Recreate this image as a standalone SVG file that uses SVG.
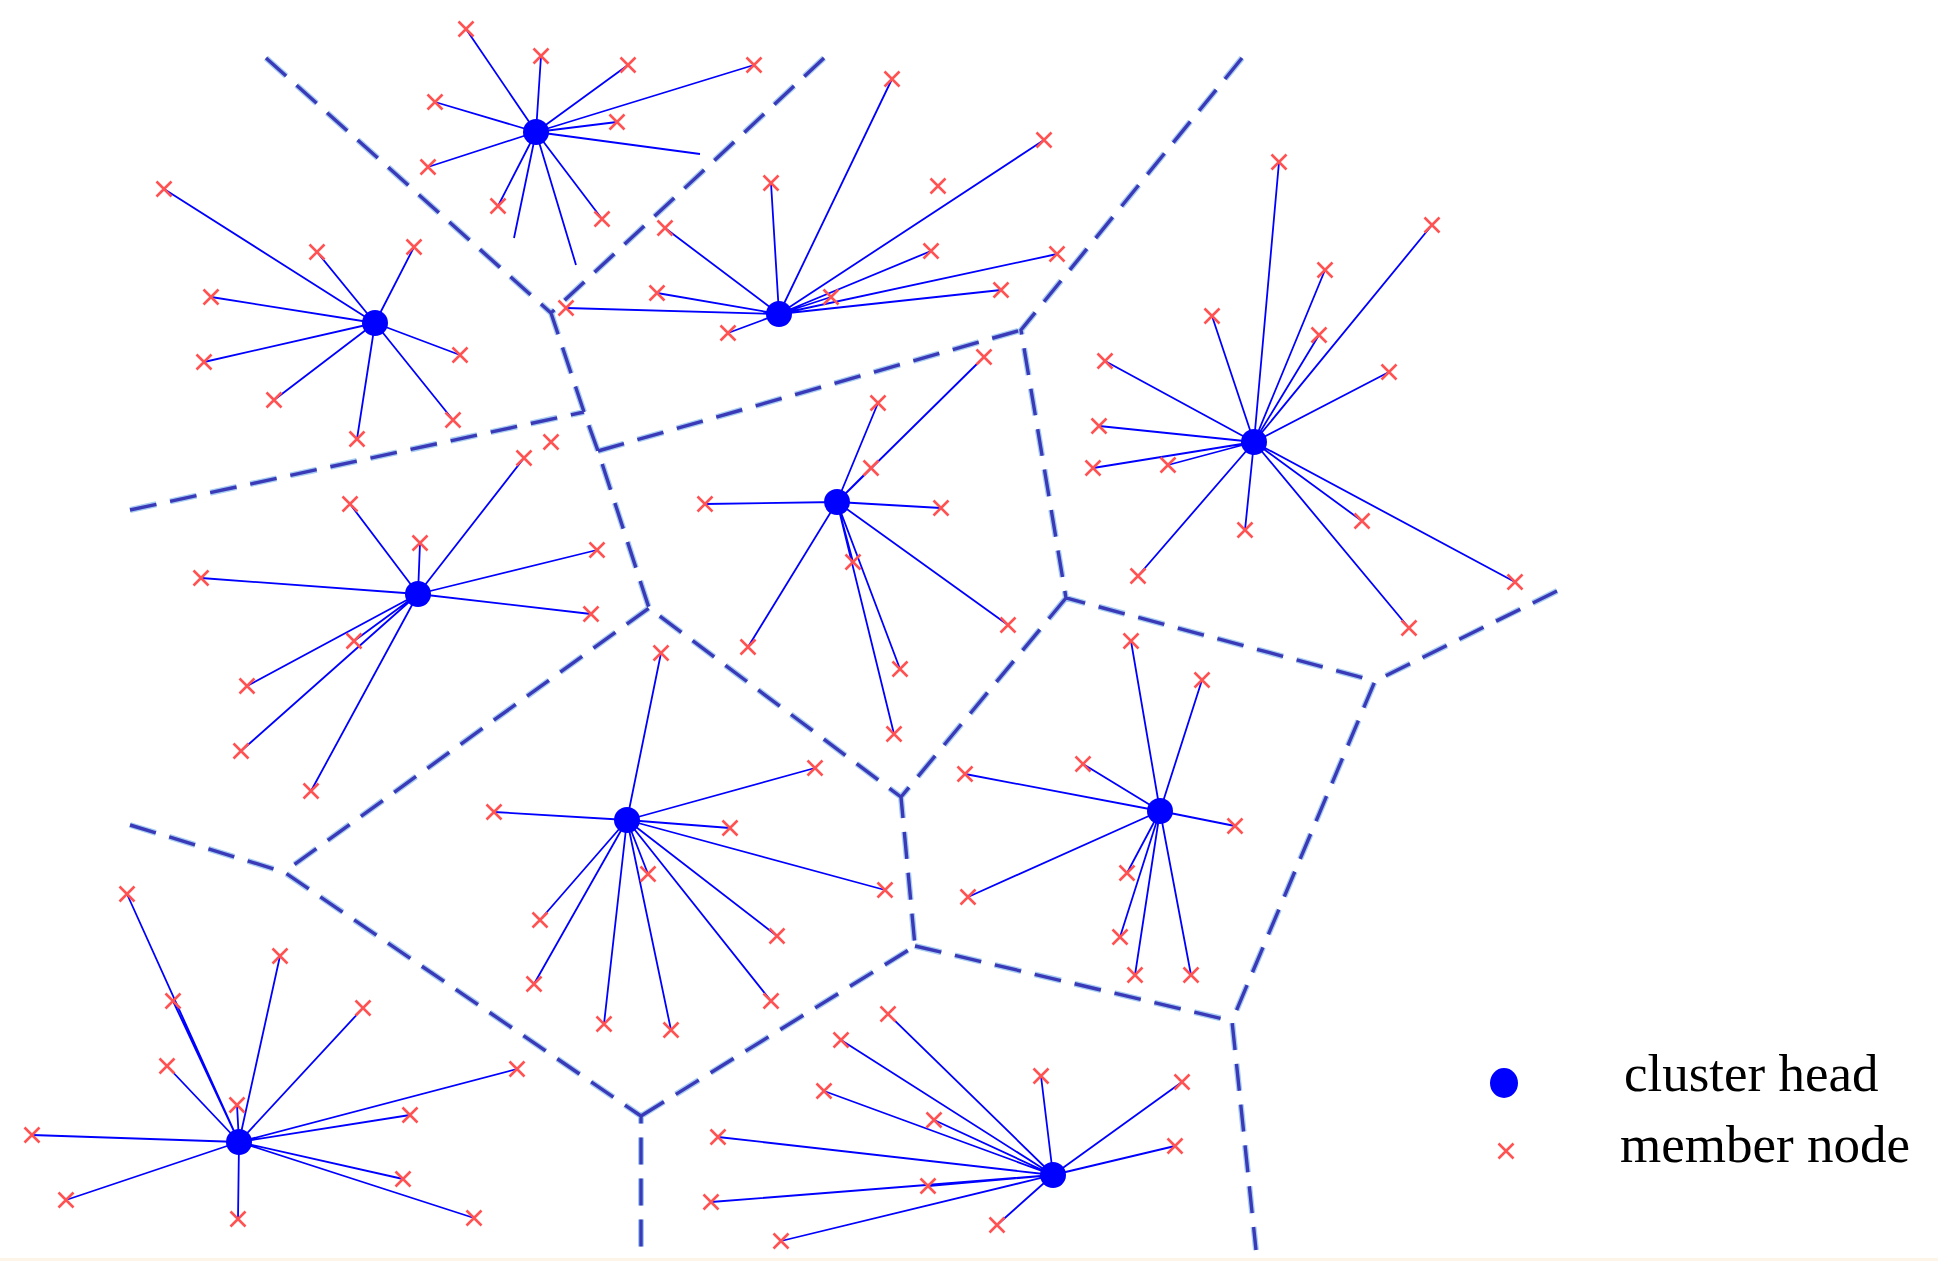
<svg xmlns="http://www.w3.org/2000/svg" width="1938" height="1287" viewBox="0 0 1938 1287">
<style>
.bg{fill:#ffffff}
.vor-halo{fill:none;stroke:#a8cdf2;stroke-width:6;stroke-dasharray:27 14;stroke-linecap:butt}
.vor{fill:none;stroke:#3a3ab8;stroke-width:3.4;stroke-dasharray:27 14;stroke-linecap:butt}
.link{fill:none;stroke:#0000ff;stroke-width:1.8}
.mx{fill:none;stroke:#ff5252;stroke-width:2.6}
.ch{fill:#0000ff}
.label{font-family:"Liberation Serif","Times New Roman",serif;font-size:53px;fill:#000000}
</style>
<defs>
<path id="mx" class="mx" d="M-7.5,-7.5L7.5,7.5M-7.5,7.5L7.5,-7.5"/>
<path id="vpath" d="M266,58 L551,313 M824,58 L551,313 L584,412 L598,451 L649,608 M130,510 L584,412 M598,451 L1021,330 M1242,58 L1021,330 L1066,598 L1375,681 M1557,591 L1375,681 L1232,1021 L1256,1250 M1066,598 L901,797 L649,608 L284,872 M130,825 L284,872 L641,1116 L641,1250 M641,1116 L915,946 L901,797 M915,946 L1232,1021"/>
</defs>
<rect class="bg" x="0" y="0" width="1938" height="1287"/>
<rect x="0" y="1258" width="1938" height="3" fill="#fcf5e8"/>

<g id="voronoi-boundaries">
<use href="#vpath" class="vor-halo"/>
<use href="#vpath" class="vor"/>
</g>

<g id="connectors">
<path class="link" d="M536,132L466,29M536,132L541,56M536,132L628,65M536,132L754,65M536,132L435,102M536,132L617,122M536,132L428,167M536,132L498,206M536,132L602,219M536,132L700,154M536,132L514,238M536,132L576,265"/>
<path class="link" d="M375,323L164,189M375,323L317,252M375,323L414,247M375,323L211,297M375,323L204,362M375,323L460,355M375,323L274,400M375,323L357,439M375,323L453,420"/>
<path class="link" d="M779,314L892,79M779,314L1044,140M779,314L771,183M779,314L665,228M779,314L931,251M779,314L1057,254M779,314L657,293M779,314L1001,290M779,314L831,297M779,314L566,308M779,314L728,333"/>
<path class="link" d="M1254,442L1279,162M1254,442L1432,225M1254,442L1325,270M1254,442L1319,335M1254,442L1212,316M1254,442L1105,361M1254,442L1389,372M1254,442L1099,426M1254,442L1093,468M1254,442L1168,465M1254,442L1245,530M1254,442L1362,521M1254,442L1138,576M1254,442L1515,582M1254,442L1409,628"/>
<path class="link" d="M837,502L984,357M837,502L878,403M837,502L871,468M837,502L705,504M837,502L941,508M837,502L853,562M837,502L1008,625M837,502L748,647M837,502L900,669M837,502L894,734"/>
<path class="link" d="M418,594L524,458M418,594L350,504M418,594L420,543M418,594L201,578M418,594L597,550M418,594L591,614M418,594L354,641M418,594L247,686M418,594L241,751M418,594L311,791"/>
<path class="link" d="M627,820L661,653M627,820L815,768M627,820L494,812M627,820L730,828M627,820L885,890M627,820L540,920M627,820L648,874M627,820L777,936M627,820L534,984M627,820L771,1001M627,820L604,1024M627,820L671,1030"/>
<path class="link" d="M1160,811L1131,641M1160,811L1202,680M1160,811L1083,764M1160,811L965,774M1160,811L1235,826M1160,811L968,897M1160,811L1127,873M1160,811L1120,937M1160,811L1135,975M1160,811L1191,975"/>
<path class="link" d="M239,1142L127,894M239,1142L280,956M239,1142L173,1001M239,1142L363,1008M239,1142L167,1066M239,1142L517,1069M239,1142L237,1105M239,1142L410,1115M239,1142L32,1135M239,1142L403,1179M239,1142L66,1200M239,1142L238,1219M239,1142L474,1218"/>
<path class="link" d="M1053,1175L888,1014M1053,1175L841,1040M1053,1175L1041,1076M1053,1175L1182,1082M1053,1175L824,1091M1053,1175L934,1120M1053,1175L718,1137M1053,1175L1175,1146M1053,1175L928,1186M1053,1175L711,1202M1053,1175L997,1225M1053,1175L781,1241"/>
</g>

<g id="members-1"><use href="#mx" x="466" y="29"/><use href="#mx" x="541" y="56"/><use href="#mx" x="628" y="65"/><use href="#mx" x="754" y="65"/><use href="#mx" x="435" y="102"/><use href="#mx" x="617" y="122"/><use href="#mx" x="428" y="167"/><use href="#mx" x="498" y="206"/><use href="#mx" x="602" y="219"/></g>
<g id="members-2"><use href="#mx" x="164" y="189"/><use href="#mx" x="317" y="252"/><use href="#mx" x="414" y="247"/><use href="#mx" x="211" y="297"/><use href="#mx" x="204" y="362"/><use href="#mx" x="460" y="355"/><use href="#mx" x="274" y="400"/><use href="#mx" x="357" y="439"/><use href="#mx" x="453" y="420"/></g>
<g id="members-3"><use href="#mx" x="892" y="79"/><use href="#mx" x="1044" y="140"/><use href="#mx" x="771" y="183"/><use href="#mx" x="665" y="228"/><use href="#mx" x="931" y="251"/><use href="#mx" x="1057" y="254"/><use href="#mx" x="657" y="293"/><use href="#mx" x="1001" y="290"/><use href="#mx" x="831" y="297"/><use href="#mx" x="566" y="308"/><use href="#mx" x="728" y="333"/><use href="#mx" x="938" y="186"/></g>
<g id="members-4"><use href="#mx" x="1279" y="162"/><use href="#mx" x="1432" y="225"/><use href="#mx" x="1325" y="270"/><use href="#mx" x="1319" y="335"/><use href="#mx" x="1212" y="316"/><use href="#mx" x="1105" y="361"/><use href="#mx" x="1389" y="372"/><use href="#mx" x="1099" y="426"/><use href="#mx" x="1093" y="468"/><use href="#mx" x="1168" y="465"/><use href="#mx" x="1245" y="530"/><use href="#mx" x="1362" y="521"/><use href="#mx" x="1138" y="576"/><use href="#mx" x="1515" y="582"/><use href="#mx" x="1409" y="628"/></g>
<g id="members-5"><use href="#mx" x="984" y="357"/><use href="#mx" x="878" y="403"/><use href="#mx" x="871" y="468"/><use href="#mx" x="705" y="504"/><use href="#mx" x="941" y="508"/><use href="#mx" x="853" y="562"/><use href="#mx" x="1008" y="625"/><use href="#mx" x="748" y="647"/><use href="#mx" x="900" y="669"/><use href="#mx" x="894" y="734"/></g>
<g id="members-6"><use href="#mx" x="524" y="458"/><use href="#mx" x="350" y="504"/><use href="#mx" x="420" y="543"/><use href="#mx" x="201" y="578"/><use href="#mx" x="597" y="550"/><use href="#mx" x="591" y="614"/><use href="#mx" x="354" y="641"/><use href="#mx" x="247" y="686"/><use href="#mx" x="241" y="751"/><use href="#mx" x="311" y="791"/><use href="#mx" x="551" y="442"/></g>
<g id="members-7"><use href="#mx" x="661" y="653"/><use href="#mx" x="815" y="768"/><use href="#mx" x="494" y="812"/><use href="#mx" x="730" y="828"/><use href="#mx" x="885" y="890"/><use href="#mx" x="540" y="920"/><use href="#mx" x="648" y="874"/><use href="#mx" x="777" y="936"/><use href="#mx" x="534" y="984"/><use href="#mx" x="771" y="1001"/><use href="#mx" x="604" y="1024"/><use href="#mx" x="671" y="1030"/></g>
<g id="members-8"><use href="#mx" x="1131" y="641"/><use href="#mx" x="1202" y="680"/><use href="#mx" x="1083" y="764"/><use href="#mx" x="965" y="774"/><use href="#mx" x="1235" y="826"/><use href="#mx" x="968" y="897"/><use href="#mx" x="1127" y="873"/><use href="#mx" x="1120" y="937"/><use href="#mx" x="1135" y="975"/><use href="#mx" x="1191" y="975"/></g>
<g id="members-9"><use href="#mx" x="127" y="894"/><use href="#mx" x="280" y="956"/><use href="#mx" x="173" y="1001"/><use href="#mx" x="363" y="1008"/><use href="#mx" x="167" y="1066"/><use href="#mx" x="517" y="1069"/><use href="#mx" x="237" y="1105"/><use href="#mx" x="410" y="1115"/><use href="#mx" x="32" y="1135"/><use href="#mx" x="403" y="1179"/><use href="#mx" x="66" y="1200"/><use href="#mx" x="238" y="1219"/><use href="#mx" x="474" y="1218"/></g>
<g id="members-10"><use href="#mx" x="888" y="1014"/><use href="#mx" x="841" y="1040"/><use href="#mx" x="1041" y="1076"/><use href="#mx" x="1182" y="1082"/><use href="#mx" x="824" y="1091"/><use href="#mx" x="934" y="1120"/><use href="#mx" x="718" y="1137"/><use href="#mx" x="1175" y="1146"/><use href="#mx" x="928" y="1186"/><use href="#mx" x="711" y="1202"/><use href="#mx" x="997" y="1225"/><use href="#mx" x="781" y="1241"/></g>

<g id="ch1"><circle class="ch" cx="536" cy="132" r="13"/></g>
<g id="ch2"><circle class="ch" cx="375" cy="323" r="13"/></g>
<g id="ch3"><circle class="ch" cx="779" cy="314" r="13"/></g>
<g id="ch4"><circle class="ch" cx="1254" cy="442" r="13"/></g>
<g id="ch5"><circle class="ch" cx="837" cy="502" r="13"/></g>
<g id="ch6"><circle class="ch" cx="418" cy="594" r="13"/></g>
<g id="ch7"><circle class="ch" cx="627" cy="820" r="13"/></g>
<g id="ch8"><circle class="ch" cx="1160" cy="811" r="13"/></g>
<g id="ch9"><circle class="ch" cx="239" cy="1142" r="13"/></g>
<g id="ch10"><circle class="ch" cx="1053" cy="1175" r="13"/></g>

<g id="legend">
<ellipse class="ch" cx="1504" cy="1083" rx="14" ry="15"/>
<use href="#mx" x="1506" y="1151"/>
<text class="label" x="1624" y="1091">cluster head</text>
<text class="label" x="1620" y="1162">member node</text>
</g>
</svg>
